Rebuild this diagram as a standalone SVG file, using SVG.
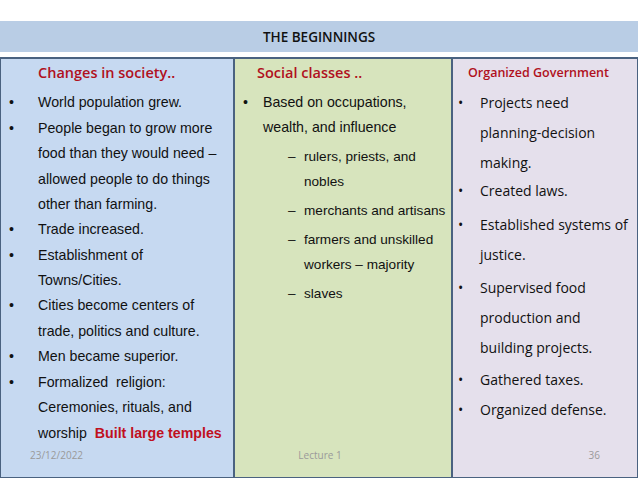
<svg xmlns="http://www.w3.org/2000/svg" width="638" height="478" viewBox="0 0 638 478">
<style>
.a{font-family:"Liberation Sans",Arial,sans-serif;font-size:14.2px;fill:#111}
.s{font-size:13.6px}
.c{font-family:"Open Sans","Noto Sans",sans-serif;font-size:14px;fill:#111}
.h{font-family:"Open Sans","Noto Sans",sans-serif;font-weight:600;fill:#b01020}
.f{font-family:"Open Sans","Noto Sans",sans-serif;font-size:10px;fill:#9a9a9a}
.b{stroke:#4a6280;stroke-width:2}
</style>
<rect width="638" height="478" fill="#fff"/>
<g id="header"><rect x="0" y="21" width="638" height="31" fill="#b9cde5"/>
<text x="319" y="42" text-anchor="middle" font-family="Open Sans,Noto Sans,sans-serif" font-size="13.5" font-weight="600" fill="#111">THE BEGINNINGS</text></g>
<g id="col1"><rect x="0" y="58" width="234" height="420" fill="#c6d9f1" class="b"/>
<text class="h" x="38" y="78" font-size="14.5">Changes in society..</text>
<g class="a">
<text x="9" y="107">•</text><text x="38" y="107">World population grew.</text>
<text x="9" y="133">•</text><text x="38" y="133">People began to grow more</text>
<text x="38" y="158">food than they would need –</text>
<text x="38" y="184">allowed people to do things</text>
<text x="38" y="209">other than farming.</text>
<text x="9" y="234">•</text><text x="38" y="234">Trade increased.</text>
<text x="9" y="260">•</text><text x="38" y="260">Establishment of</text>
<text x="38" y="285">Towns/Cities.</text>
<text x="9" y="310">•</text><text x="38" y="310">Cities become centers of</text>
<text x="38" y="336">trade, politics and culture.</text>
<text x="9" y="361">•</text><text x="38" y="361">Men became superior.</text>
<text x="9" y="387">•</text><text x="38" y="387" xml:space="preserve">Formalized  religion:</text>
<text x="38" y="412">Ceremonies, rituals, and</text>
<text x="38" y="438" xml:space="preserve">worship  <tspan font-weight="bold" fill="#c0101e">Built large temples</tspan></text>
</g>
<text class="f" x="30" y="459">23/12/2022</text></g>
<g id="col2"><rect x="234" y="58" width="218" height="420" fill="#d7e4bd" class="b"/>
<text class="h" x="257" y="78" font-size="14.5">Social classes ..</text>
<g class="a">
<text x="243" y="107">•</text><text x="263" y="107">Based on occupations,</text>
<text x="263" y="132">wealth, and influence</text>
<g class="s">
<text x="288" y="161">–</text><text x="304" y="161">rulers, priests, and</text>
<text x="304" y="186">nobles</text>
<text x="288" y="215">–</text><text x="304" y="215">merchants and artisans</text>
<text x="288" y="244">–</text><text x="304" y="244">farmers and unskilled</text>
<text x="304" y="269">workers – majority</text>
<text x="288" y="298">–</text><text x="304" y="298">slaves</text>
</g>
</g>
<text class="f" x="320" y="459" text-anchor="middle">Lecture 1</text></g>
<g id="col3"><rect x="452" y="58" width="186" height="420" fill="#e5e0ec" class="b"/>
<text class="h" x="468" y="77" font-size="12.5">Organized Government</text>
<g class="c">
<text x="458" y="108">•</text><text x="480" y="108">Projects need</text>
<text x="480" y="138">planning-decision</text>
<text x="480" y="168">making.</text>
<text x="458" y="196">•</text><text x="480" y="196">Created laws.</text>
<text x="458" y="230">•</text><text x="480" y="230">Established systems of</text>
<text x="480" y="260">justice.</text>
<text x="458" y="293">•</text><text x="480" y="293">Supervised food</text>
<text x="480" y="323">production and</text>
<text x="480" y="353">building projects.</text>
<text x="458" y="385">•</text><text x="480" y="385">Gathered taxes.</text>
<text x="458" y="415">•</text><text x="480" y="415">Organized defense.</text>
</g>
<text class="f" x="600" y="459" text-anchor="end">36</text></g>
</svg>
